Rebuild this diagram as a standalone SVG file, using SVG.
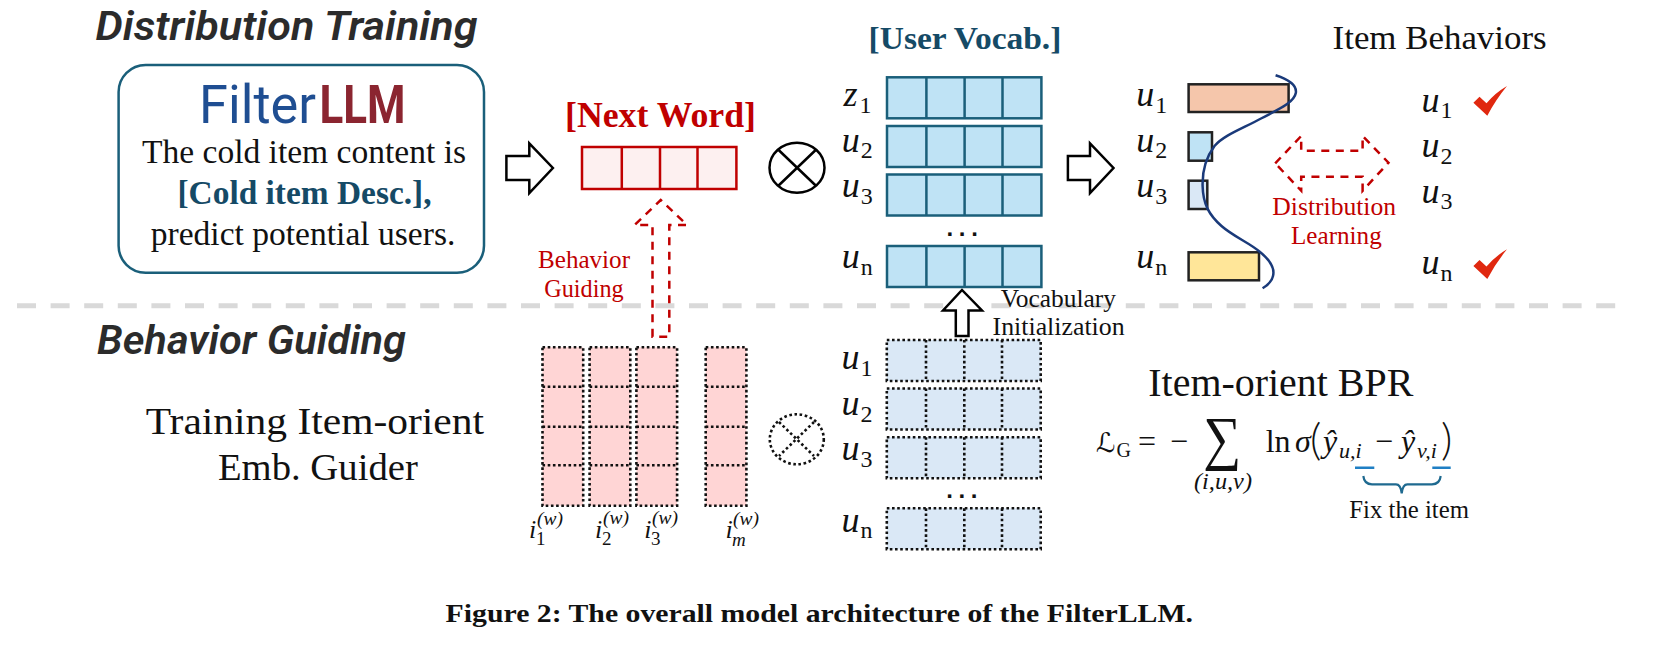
<svg xmlns="http://www.w3.org/2000/svg" width="1656" height="646" viewBox="0 0 1656 646">
<style>
text{font-family:"Liberation Serif","Times New Roman",serif;fill:#111}
.head{font-family:Roboto,"Liberation Sans",sans-serif;font-style:italic;font-weight:600;fill:#2b2b2b}
.mi{font-style:italic;font-size:36px}
.sb{font-style:normal;font-size:24px}
.r{fill:#c00000;font-size:25px}
.sm{font-size:25px}
.blk{fill:#fff;stroke:#000;stroke-width:2.5;stroke-linejoin:miter}
.rd{fill:none;stroke:#c00000;stroke-width:2.5;stroke-dasharray:8 6.5}
.bc{stroke:#1a5f7a;stroke-width:2.5}
.dc{stroke:#111;stroke-width:2.6;stroke-dasharray:2.6 2.6}
.bar{stroke:#222;stroke-width:2.5}
.chk{fill:#e0280f}
.iw{font-style:italic;font-size:26px}
.iw .s{font-size:19.5px}
.iw .b{font-size:19px;font-style:normal}
.dots{font-family:"Liberation Sans",sans-serif;font-weight:700;font-size:24px;letter-spacing:5.6px;text-anchor:middle}
.paren{font-family:Lato,"Liberation Sans",sans-serif;font-weight:300;font-size:44px}
</style>
<defs>
<g id="rowB"><rect class="bc" width="154.4" height="41" fill="#bfe3f5"/><path class="bc" d="M39.4 0V41M77.6 0V41M115.5 0V41" fill="none"/></g>
<g id="rowD"><rect class="dc" width="153.9" height="41" fill="#dae8f6"/><path class="dc" d="M39.2 0V41M77.5 0V41M115.2 0V41" fill="none"/></g>
<g id="colD"><rect class="dc" width="40.7" height="158.4" fill="#ffd5d5"/><path class="dc" d="M0 39.4H40.7M0 79.4H40.7M0 118H40.7" fill="none"/></g>
<path id="check" d="M1473.4 102.7L1479.5 96.7L1486.5 103.3Q1495 93 1507 86Q1495.5 100 1487.3 115.7Z"/>
</defs>

<g id="dividers"><line x1="17" y1="305.7" x2="1616" y2="305.7" stroke="#d9d9d9" stroke-width="5" stroke-dasharray="19 14.6"/></g>

<g id="title-distribution"><text class="head" x="95.5" y="39.5" font-size="41" textLength="382" lengthAdjust="spacingAndGlyphs">Distribution Training</text></g>
<g id="title-behavior"><text class="head" x="97" y="354" font-size="40" textLength="309" lengthAdjust="spacingAndGlyphs">Behavior Guiding</text></g>

<g id="prompt-box">
<rect x="118.6" y="65" width="365.4" height="207.7" rx="27" fill="#fff" stroke="#1a5f7a" stroke-width="2.5"/>
<text x="199" y="123.4" font-size="53" style="font-family:Roboto,'Liberation Sans',sans-serif;fill:#1f4e92" textLength="117" lengthAdjust="spacingAndGlyphs">Filter</text>
<text x="319.5" y="123.4" font-size="53" font-weight="700" style="font-family:Roboto,'Liberation Sans',sans-serif;fill:#8b2530" textLength="86" lengthAdjust="spacingAndGlyphs">LLM</text>
<text x="142" y="163" font-size="33" textLength="324" lengthAdjust="spacingAndGlyphs">The cold item content is</text>
<text x="177.5" y="204" font-size="33" font-weight="700" style="fill:#154a66" textLength="254" lengthAdjust="spacingAndGlyphs">[Cold item Desc.],</text>
<text x="150.7" y="245" font-size="33" textLength="304.7" lengthAdjust="spacingAndGlyphs">predict potential users.</text>
</g>

<g id="next-word">
<text x="565" y="127" font-size="36" font-weight="700" style="fill:#c00000" textLength="191" lengthAdjust="spacingAndGlyphs">[Next Word]</text>
<rect x="582" y="147" width="154.4" height="42" fill="#fdf0f0" stroke="#c00000" stroke-width="2.5"/>
<path d="M621.8 147V189M660 147V189M697.5 147V189" fill="none" stroke="#c00000" stroke-width="2.5"/>
</g>

<g id="otimes-top">
<ellipse cx="797" cy="167.7" rx="27.5" ry="25" fill="#fff" stroke="#000" stroke-width="2.5"/>
<path d="M778.6 150L815.7 185.5M815.7 150L778.6 185.5" fill="none" stroke="#000" stroke-width="2.5"/>
</g>

<g id="user-vocab">
<text x="868.6" y="49" font-size="31" font-weight="700" style="fill:#154a66" textLength="192.8" lengthAdjust="spacingAndGlyphs">[User Vocab.]</text>
<use href="#rowB" x="887" y="77.3"/><use href="#rowB" x="887" y="126"/><use href="#rowB" x="887" y="174.5"/><use href="#rowB" x="887" y="246"/>
<text class="dots" x="965" y="236">...</text>
<text class="mi" x="843.6" y="106">z<tspan class="sb" dx="2" dy="6.7">1</tspan></text>
<text class="mi" x="841.8" y="151.7">u<tspan class="sb" dx="1" dy="6.7">2</tspan></text>
<text class="mi" x="841.8" y="197">u<tspan class="sb" dx="1" dy="6.7">3</tspan></text>
<text class="mi" x="841.8" y="268">u<tspan class="sb" dx="1" dy="6.7">n</tspan></text>
</g>

<g id="score-bars">
<rect class="bar" x="1188.6" y="84.3" width="100" height="27.7" fill="#f5c6ab"/>
<rect class="bar" x="1188.6" y="132.3" width="23.4" height="28.4" fill="#bfe3f5"/>
<rect class="bar" x="1188.6" y="180.7" width="18.7" height="28.3" fill="#dae8f6"/>
<rect class="bar" x="1188.6" y="252.3" width="70.4" height="28" fill="#ffe699"/>
<path d="M1275.6 75.3C1290 80 1297 86 1295.8 93C1294 103 1277 110 1262 118C1242 129 1224 135 1214.5 146C1205.5 158 1202.2 172 1202.6 186C1203 204 1209 215 1221.5 226C1234 237 1250 243 1260 252C1270 260 1275 268 1273 276C1272 281 1268 285 1262.6 288.3" fill="none" stroke="#1a3a7a" stroke-width="2.5"/>
<text class="mi" x="1136.2" y="106">u<tspan class="sb" dx="1" dy="6.7">1</tspan></text>
<text class="mi" x="1136.2" y="151.7">u<tspan class="sb" dx="1" dy="6.7">2</tspan></text>
<text class="mi" x="1136.2" y="197">u<tspan class="sb" dx="1" dy="6.7">3</tspan></text>
<text class="mi" x="1136.2" y="268">u<tspan class="sb" dx="1" dy="6.7">n</tspan></text>
</g>

<g id="item-behaviors">
<text x="1332.6" y="49.3" font-size="33" textLength="214" lengthAdjust="spacingAndGlyphs">Item Behaviors</text>
<text class="mi" x="1421.4" y="111.7">u<tspan class="sb" dx="1" dy="6.7">1</tspan></text>
<text class="mi" x="1421.4" y="157">u<tspan class="sb" dx="1" dy="6.7">2</tspan></text>
<text class="mi" x="1421.4" y="202.7">u<tspan class="sb" dx="1" dy="6.7">3</tspan></text>
<text class="mi" x="1421.4" y="274">u<tspan class="sb" dx="1" dy="6.7">n</tspan></text>
<use href="#check" class="chk"/>
<use href="#check" class="chk" y="163.3"/>
</g>

<g id="item-embeddings">
<use href="#colD" x="542.5" y="347.3"/><use href="#colD" x="589.6" y="347.3"/><use href="#colD" x="636.4" y="347.3"/><use href="#colD" x="705.7" y="347.3"/>
<text class="iw" x="529" y="537.7">i<tspan class="s" x="537" y="525">(w)</tspan><tspan class="b" x="536" y="545">1</tspan></text>
<text class="iw" x="595" y="537.7">i<tspan class="s" x="603" y="523.5">(w)</tspan><tspan class="b" x="602" y="545">2</tspan></text>
<text class="iw" x="644.3" y="537.7">i<tspan class="s" x="652" y="523.5">(w)</tspan><tspan class="b" x="651" y="545">3</tspan></text>
<text class="iw" x="725.4" y="537.7">i<tspan class="s" x="733" y="525">(w)</tspan><tspan class="b" style="font-style:italic" x="732" y="545.5">m</tspan></text>
</g>

<g id="otimes-bottom">
<ellipse class="dc" cx="796.8" cy="439.3" rx="27" ry="25" fill="#fff"/>
<path class="dc" d="M779 422L814 456M814 422L779 456" fill="none"/>
</g>

<g id="user-embeddings">
<use href="#rowD" x="886.8" y="340"/><use href="#rowD" x="886.8" y="388.5"/><use href="#rowD" x="886.8" y="437.2"/><use href="#rowD" x="886.8" y="508.3"/>
<text class="dots" x="964.6" y="498">...</text>
<text class="mi" x="841.4" y="369.3">u<tspan class="sb" dx="1" dy="6.7">1</tspan></text>
<text class="mi" x="841.4" y="415">u<tspan class="sb" dx="1" dy="6.7">2</tspan></text>
<text class="mi" x="841.4" y="460">u<tspan class="sb" dx="1" dy="6.7">3</tspan></text>
<text class="mi" x="841.4" y="531.7">u<tspan class="sb" dx="1" dy="6.7">n</tspan></text>
</g>

<g id="guider-label">
<text x="145.7" y="434" font-size="38" textLength="338.3" lengthAdjust="spacingAndGlyphs">Training Item-orient</text>
<text x="217.9" y="480" font-size="38" textLength="200" lengthAdjust="spacingAndGlyphs">Emb. Guider</text>
</g>

<g id="bpr-formula">
<text x="1148.3" y="396" font-size="39" textLength="265" lengthAdjust="spacingAndGlyphs">Item-orient BPR</text>
<text x="1096" y="451.7" font-size="27" font-style="italic" style="font-family:'DejaVu Sans',sans-serif">ℒ<tspan font-size="20" font-style="normal" style="font-family:'Liberation Serif',serif" dx="1" dy="5.5">G</tspan></text>
<text x="1138" y="451.7" font-size="32" textLength="50" lengthAdjust="spacing">= −</text>
<text x="1203" y="458" font-size="60" textLength="38" lengthAdjust="spacingAndGlyphs">∑</text>
<text x="1194" y="489" font-size="24" font-style="italic" textLength="58" lengthAdjust="spacingAndGlyphs">(i,u,v)</text>
<text x="1265.7" y="451.7" font-size="32">ln</text>
<text x="1295" y="451.7" font-size="32" font-style="italic">σ</text>
<text class="paren" x="1310" y="455">(</text>
<text x="1323" y="451.7" font-size="32" font-style="italic">ŷ</text>
<text x="1339" y="458" font-size="22" font-style="italic">u,i</text>
<text x="1375" y="451.7" font-size="32">−</text>
<text x="1401" y="451.7" font-size="32" font-style="italic">ŷ</text>
<text x="1417" y="458" font-size="22" font-style="italic">v,i</text>
<text class="paren" x="1441" y="455">)</text>
<path d="M1355 467.7H1374.3M1432.3 467.7H1450.7" fill="none" stroke="#1f7fc4" stroke-width="2.5"/>
<path d="M1363.3 476C1364 482 1367 484.3 1372 484.3H1396C1399 484.3 1401 487 1401.7 493.3C1402.4 487 1404.4 484.3 1407.4 484.3H1432C1437 484.3 1440 482 1440.7 476" fill="none" stroke="#1f6a90" stroke-width="2.2"/>
<text x="1349.3" y="517.7" font-size="25" textLength="119.7" lengthAdjust="spacingAndGlyphs">Fix the item</text>
</g>

<g id="connectors">
<path class="blk" d="M506.4 156H529.3V143.3L552.9 168L529.3 193V180H506.4Z"/>
<path class="blk" d="M1067.9 156H1090V143.3L1113.5 168L1090 193V180H1067.9Z"/>
<path class="blk" d="M955.8 336V310.5H943L962 290L982 310.5H968.5V336Z"/>
<path class="rd" d="M652.5 336.7V225H634.6L660.7 200L687 225H669.3V336.7Z"/>
<path class="rd" d="M1275.2 163.3L1301.2 136V150.7H1362.6V136L1388.5 162.7L1362.6 190.7V176.7H1301.2V190.7Z"/>
</g>

<g id="connector-labels">
<text class="r" x="538" y="268" textLength="92" lengthAdjust="spacingAndGlyphs">Behavior</text>
<text class="r" x="544.3" y="296.7" textLength="79.3" lengthAdjust="spacingAndGlyphs">Guiding</text>
<text class="r" x="1272.3" y="215" textLength="123.8" lengthAdjust="spacingAndGlyphs">Distribution</text>
<text class="r" x="1291" y="244" textLength="90.7" lengthAdjust="spacingAndGlyphs">Learning</text>
<text class="sm" x="1000.7" y="307" textLength="115.3" lengthAdjust="spacingAndGlyphs">Vocabulary</text>
<text class="sm" x="992.6" y="335" textLength="132" lengthAdjust="spacingAndGlyphs">Initialization</text>
</g>

<g id="caption"><text x="445.6" y="621.7" font-size="25" font-weight="700" textLength="747.4" lengthAdjust="spacingAndGlyphs">Figure 2: The overall model architecture of the FilterLLM.</text></g>
</svg>
